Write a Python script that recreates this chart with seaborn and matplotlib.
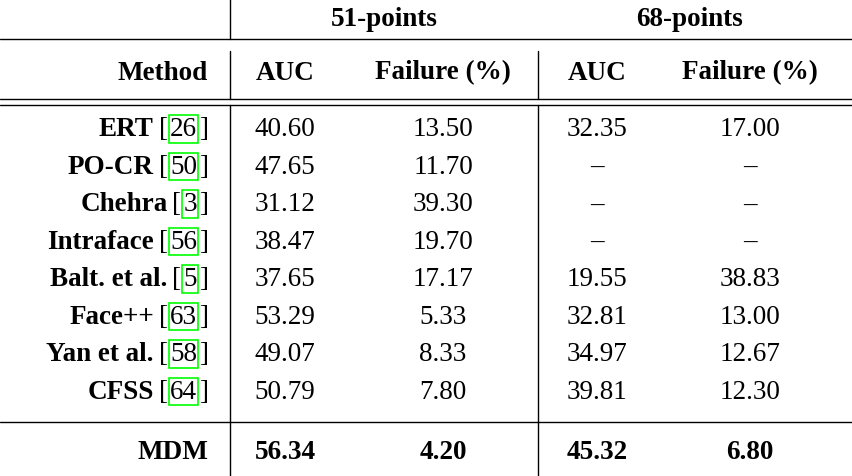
import matplotlib
matplotlib.use("Agg")
import matplotlib.pyplot as plt
import seaborn as sns

sns.set_style("white")
plt.rcParams['font.family'] = ['Liberation Serif', 'DejaVu Serif']
plt.rcParams['text.color'] = 'black'

methods = ["ERT", "PO-CR", "Chehra", "Intraface", "Balt. et al.", "Face++", "Yan et al.", "CFSS"]
cites = ["26", "50", "3", "56", "5", "63", "58", "64"]
auc51 = ["40.60", "47.65", "31.12", "38.47", "37.65", "53.29", "49.07", "50.79"]
fail51 = ["13.50", "11.70", "39.30", "19.70", "17.17", "5.33", "8.33", "7.80"]
auc68 = ["32.35", "–", "–", "–", "19.55", "32.81", "34.97", "39.81"]
fail68 = ["17.00", "–", "–", "–", "38.83", "13.00", "12.67", "12.30"]
best = ["MDM", "56.34", "4.20", "45.32", "6.80"]
groups = ["51-points", "68-points"]
subheads = ["Method", "AUC", "Failure (%)", "AUC", "Failure (%)"]

fig = plt.figure(figsize=(8.53, 4.77), dpi=100)
ax = fig.add_axes([0, 0, 1, 1])
ax.set_xlim(0, 853); ax.set_ylim(477, 0); ax.axis("off")
fs = 19.5
xm, xc = 208, [285, 443, 597, 750]
lw = 1.0
ax.plot([0, 853], [40, 40], color="k", lw=lw)
ax.plot([0, 853], [100, 100], color="k", lw=lw)
ax.plot([0, 853], [106, 106], color="k", lw=lw)
ax.plot([0, 853], [423, 423], color="k", lw=lw)
ax.plot([230, 230], [0, 40], color="k", lw=lw)
for x in (230, 538):
    ax.plot([x, x], [52, 100], color="k", lw=lw)
    ax.plot([x, x], [106, 423], color="k", lw=lw)
    ax.plot([x, x], [423, 477], color="k", lw=lw)

ax.text(384, 20, groups[0], ha="center", va="center", fontsize=fs, weight="bold")
ax.text(690, 20, groups[1], ha="center", va="center", fontsize=fs, weight="bold")
ax.text(xm, 73, subheads[0], ha="right", va="center", fontsize=fs, weight="bold")
for x, s in zip(xc, subheads[1:]):
    ax.text(x, 73, s, ha="center", va="center", fontsize=fs, weight="bold")

r = fig.canvas.get_renderer()
inv = ax.transData.inverted()
def left_of(t):
    bb = t.get_window_extent(r)
    return inv.transform((bb.x0, bb.y0))[0]

ys = [130 + i * 37.5 for i in range(8)]
for i, y in enumerate(ys):
    t = ax.text(xm, y, "]", ha="right", va="center", fontsize=fs)
    x = left_of(t) - 2
    t = ax.text(x, y, cites[i], ha="right", va="center", fontsize=fs,
                bbox=dict(boxstyle="square,pad=0.05", fc="none", ec="#00ff00", lw=1.2))
    x = left_of(t) - 2
    t = ax.text(x, y, "[", ha="right", va="center", fontsize=fs)
    x = left_of(t) - 5
    ax.text(x, y, methods[i], ha="right", va="center", fontsize=fs, weight="bold")
    for xx, v in zip(xc, [auc51[i], fail51[i], auc68[i], fail68[i]]):
        ax.text(xx, y, v, ha="center", va="center", fontsize=fs)

ax.text(xm, 453, best[0], ha="right", va="center", fontsize=fs, weight="bold")
for xx, v in zip(xc, best[1:]):
    ax.text(xx, 453, v, ha="center", va="center", fontsize=fs, weight="bold")

fig.savefig("out.png", dpi=100)
